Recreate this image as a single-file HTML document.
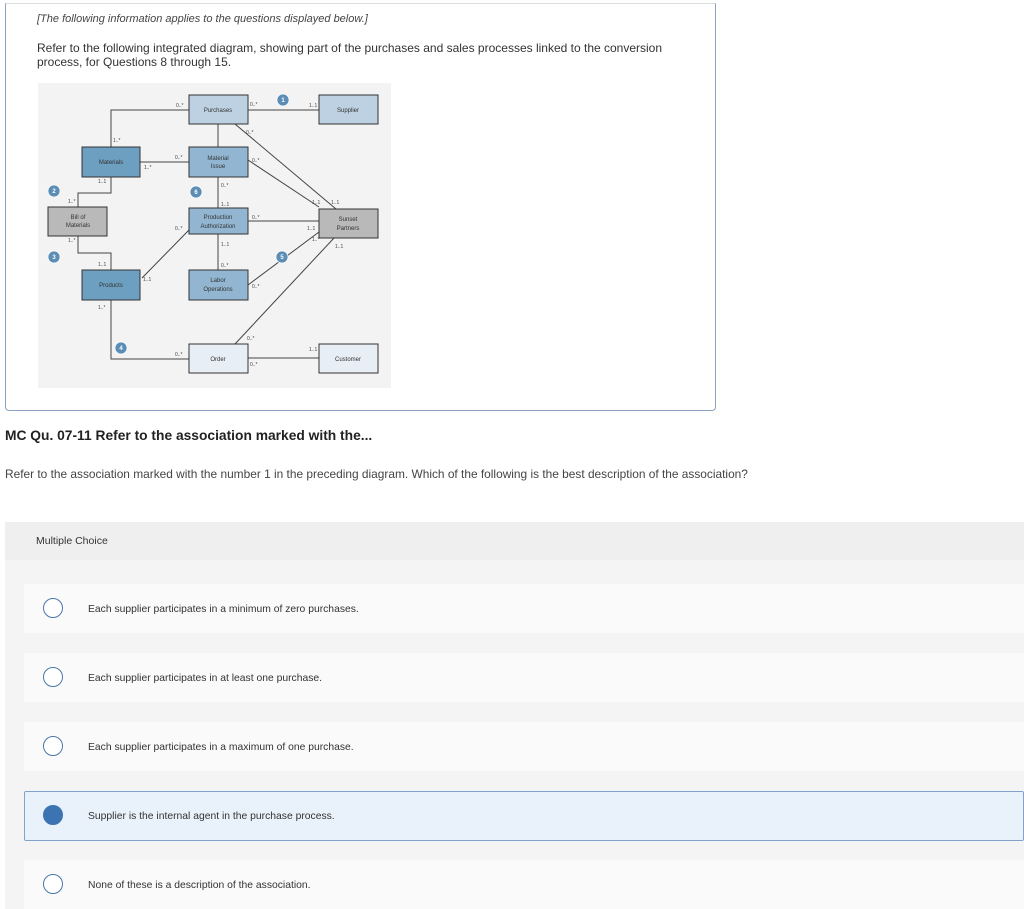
<!DOCTYPE html>
<html><head><meta charset="utf-8"><style>
body{margin:0;width:1024px;height:909px;background:#fff;font-family:"Liberation Sans",sans-serif;color:#333;position:relative;overflow:hidden}
.card{position:absolute;left:5px;top:3px;width:711px;height:408px;border:1px solid #8aa3c0;border-top:1px solid #ddd;border-radius:0 0 4px 4px;box-sizing:border-box}
.t{position:absolute;white-space:nowrap}
.band{position:absolute;left:5px;top:522px;width:1019px;height:38px;background:#efefef}
.outer{position:absolute;left:5px;top:560px;width:1019px;height:349px;background:#f4f4f4}
.row{position:absolute;left:24px;width:1000px;height:49px;background:#fafafa;box-sizing:border-box}
.row .r{position:absolute;left:19px;top:14px;width:20px;height:20px;border:1.5px solid #4a78a8;border-radius:50%;box-sizing:border-box;background:#fff}
.row .x{position:absolute;left:64px;top:20px;font-size:10.35px;color:#333}
</style></head><body>
<div class="card"></div>
<div class="t" style="left:37px;top:13px;font-size:11px;font-style:italic;color:#444">[The following information applies to the questions displayed below.]</div>
<div class="t" style="left:37px;top:41px;font-size:12px;line-height:14px;color:#333">Refer to the following integrated diagram, showing part of the purchases and sales processes linked to the conversion<br>process, for Questions 8 through 15.</div>
<svg style="position:absolute;left:38px;top:83px" width="353" height="305" viewBox="38 83 353 305" font-family="Liberation Sans,sans-serif">
<rect x="38" y="83" width="353" height="305" fill="#f3f3f3"/>
<g stroke="#444" stroke-width="1" fill="none">
<polyline points="189,110 111,110 111,147"/>
<line x1="140" y1="162" x2="189" y2="162"/>
<polyline points="111,177 111,193 78,193 78,207"/>
<polyline points="78,236 78,253 111,253 111,270"/>
<polyline points="111,300 111,359 189,359"/>
<line x1="142" y1="278" x2="189" y2="230"/>
<line x1="218" y1="124" x2="218" y2="147"/>
<line x1="218" y1="177" x2="218" y2="208"/>
<line x1="218" y1="234" x2="218" y2="270"/>
<line x1="235" y1="124" x2="336" y2="209"/>
<line x1="248" y1="160" x2="319" y2="207"/>
<line x1="248" y1="221" x2="319" y2="221"/>
<line x1="248" y1="285" x2="319" y2="232"/>
<line x1="235" y1="344" x2="334" y2="238"/>
<line x1="248" y1="358" x2="319" y2="358"/>
<line x1="248" y1="110" x2="319" y2="110"/>
</g>
<g stroke="#333" stroke-width="1">
<rect x="189" y="95" width="59" height="29" fill="#bdd1e2"/>
<rect x="319" y="95" width="59" height="29" fill="#bdd1e2"/>
<rect x="82" y="147" width="58" height="30" fill="#6c9fc0"/>
<rect x="189" y="147" width="59" height="30" fill="#92b6d1"/>
<rect x="48" y="207" width="59" height="29" fill="#b9b9b9"/>
<rect x="189" y="208" width="59" height="26" fill="#92b6d1"/>
<rect x="319" y="209" width="59" height="29" fill="#b9b9b9"/>
<rect x="82" y="270" width="58" height="30" fill="#6c9fc0"/>
<rect x="189" y="270" width="59" height="30" fill="#92b6d1"/>
<rect x="189" y="344" width="59" height="29" fill="#e8eef5"/>
<rect x="319" y="344" width="59" height="29" fill="#e8eef5"/>
</g>
<g font-size="6" fill="#333" text-anchor="middle">
<text x="218" y="112">Purchases</text>
<text x="348" y="112">Supplier</text>
<text x="111" y="164">Materials</text>
<text x="218" y="160">Material</text><text x="218" y="168">Issue</text>
<text x="78" y="219">Bill of</text><text x="78" y="227">Materials</text>
<text x="218" y="219">Production</text><text x="218" y="228">Authorization</text>
<text x="348" y="221">Sunset</text><text x="348" y="230">Partners</text>
<text x="111" y="287">Products</text>
<text x="218" y="282">Labor</text><text x="218" y="291">Operations</text>
<text x="218" y="361">Order</text>
<text x="348" y="361">Customer</text>
</g>
<g font-size="5" fill="#444">
<text x="176" y="107">0..*</text><text x="250" y="106">0..*</text><text x="309" y="107">1..1</text>
<text x="246" y="134">0..*</text>
<text x="113" y="142">1..*</text><text x="175" y="159">0..*</text><text x="144" y="169">1..*</text>
<text x="252" y="162">0..*</text><text x="98" y="183">1..1</text>
<text x="68" y="203">1..*</text><text x="68" y="242">1..*</text>
<text x="221" y="187">0..*</text><text x="221" y="206">1..1</text>
<text x="312" y="204">1..1</text><text x="331" y="204">1..1</text>
<text x="252" y="219">0..*</text><text x="307" y="230">1..1</text>
<text x="312" y="241">1..*</text><text x="335" y="248">1..1</text>
<text x="175" y="230">0..*</text>
<text x="221" y="246">1..1</text><text x="221" y="267">0..*</text>
<text x="98" y="266">1..1</text><text x="143" y="281">1..1</text>
<text x="252" y="288">0..*</text>
<text x="98" y="309">1..*</text>
<text x="247" y="340">0..*</text>
<text x="175" y="356">0..*</text><text x="250" y="366">0..*</text><text x="309" y="351">1..1</text>
</g>
<g fill="#5b8db5" stroke="#fff" stroke-width="0.7">
<circle cx="283" cy="100" r="6"/><circle cx="54" cy="191" r="6"/><circle cx="54" cy="257" r="6"/>
<circle cx="121" cy="348" r="6"/><circle cx="196" cy="192" r="6"/><circle cx="282" cy="257" r="6"/>
</g>
<g font-size="6" fill="#fff" text-anchor="middle" font-weight="bold">
<text x="283" y="102">1</text><text x="54" y="193">2</text><text x="54" y="259">3</text>
<text x="121" y="350">4</text><text x="196" y="194">6</text><text x="282" y="259">5</text>
</g>
</svg>
<div class="t" style="left:5px;top:428px;font-size:13.8px;font-weight:bold;color:#222">MC Qu. 07-11 Refer to the association marked with the...</div>
<div class="t" style="left:5px;top:467px;font-size:11.9px;color:#444">Refer to the association marked with the number 1 in the preceding diagram. Which of the following is the best description of the association?</div>
<div class="band"></div>
<div class="t" style="left:36px;top:535px;font-size:10.5px;color:#333">Multiple Choice</div>
<div class="outer"></div>
<div class="row" style="top:584px"><div class="r"></div><div class="x">Each supplier participates in a minimum of zero purchases.</div></div>
<div class="row" style="top:653px"><div class="r"></div><div class="x">Each supplier participates in at least one purchase.</div></div>
<div class="row" style="top:722px"><div class="r"></div><div class="x">Each supplier participates in a maximum of one purchase.</div></div>
<div class="row" style="top:791px;height:50px;background:#e9f1fb;border:1px solid #7fa3cb;border-radius:2px"><div class="r" style="left:18px;top:13px;background:#3c74b3;border-color:#3c74b3"></div><div class="x" style="left:63px;top:19px">Supplier is the internal agent in the purchase process.</div></div>
<div class="row" style="top:860px"><div class="r"></div><div class="x">None of these is a description of the association.</div></div>
</body></html>
